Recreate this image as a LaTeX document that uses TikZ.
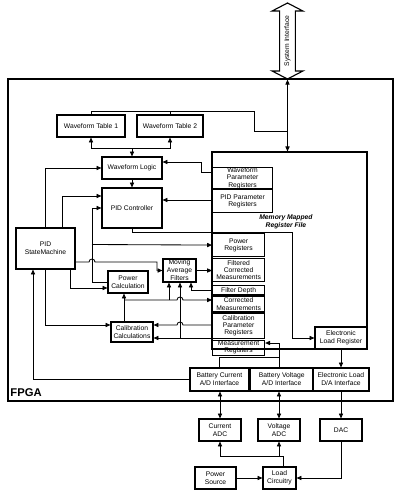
\documentclass[tikz,border=0pt]{standalone}
\usepackage{fontspec}
\setmainfont{Liberation Sans}
\usetikzlibrary{positioning, arrows.meta, shapes.arrows}

\begin{document}
\begin{tikzpicture}[x=0.025cm, y=-0.025cm, >={Triangle[length=3.5pt,width=3pt]},
line width=0.6pt,
box node/.style={draw,line width=0.8pt,align=center,inner sep=0.3pt,font=\fontsize{4.8}{5.7}\selectfont},
reg node/.style={box node,minimum width=1.3cm,inner sep=0pt,font=\fontsize{4.8}{5.2}\selectfont}]

\useasboundingbox (0,0) rectangle (400,494);

% frame and bus
\node[draw,line width=0.9pt,minimum width=9.625cm,minimum height=8.05cm] (fpga) at (200.5,240) {};
\node[anchor=base west,inner sep=0pt,font=\fontsize{8}{9}\selectfont\bfseries] (fpgalbl) at (10,396) {FPGA};
\node[double arrow,draw,line width=0.8pt,rotate=90,minimum height=1.9cm,minimum width=0.775cm,
  double arrow head extend=0.1cm,double arrow tip angle=125,inner sep=0.3pt,
  font=\fontsize{4.8}{5.7}\selectfont] (sysif) at (287.5,41) {System Interface};

\node[box node,minimum width=1.7cm,minimum height=0.55cm] (wt1) at (91,126) {Waveform Table 1};
\node[box node,minimum width=1.65cm,minimum height=0.55cm] (wt2) at (170,126) {Waveform Table 2};
\node[box node,minimum width=1.5cm,minimum height=0.55cm] (wlogic) at (132,168) {Waveform Logic};
\node[box node,minimum width=1.5cm,minimum height=1cm] (pidc) at (132,208) {PID Controller};
\node[box node,minimum width=1.475cm,minimum height=1.025cm] (pidsm) at (45.5,248.5) {PID\\StateMachine};
\node[box node,minimum width=1cm,minimum height=0.55cm] (powc) at (128,282) {Power\\Calculation};
\node[box node,minimum width=0.825cm,minimum height=0.575cm,inner sep=0pt] (maf) at (179.5,270.5) {Moving\\Average\\Filters};
\node[box node,minimum width=1.05cm,minimum height=0.5cm] (calc) at (132,332) {Calibration\\Calculations};

% register file
\node[draw,line width=0.8pt,minimum width=3.875cm,minimum height=4.925cm] (mmrf) at (289.5,250.5) {};
\node[align=center,font=\fontsize{4.8}{5.7}\selectfont\bfseries\itshape] (mmrflbl) at (286,222) {Memory Mapped\\Register File};
\node[reg node,minimum width=1.5cm,minimum height=0.525cm,anchor=north west] (wpr) at (212,167) {Waveform\\Parameter\\Registers};
\node[reg node,minimum width=1.5cm,minimum height=0.575cm,below=0pt of wpr] (pidpr) {PID Parameter\\Registers};
\node[reg node,minimum height=0.575cm,anchor=north west] (pwr) at (212,233) {Power\\Registers};
\node[reg node,minimum height=0.575cm,below=0.025cm of pwr] (fcm) {Filtered\\Corrected\\Measurements};
\node[reg node,minimum height=0.225cm,below=0.075cm of fcm] (fd) {Filter Depth};
\node[reg node,minimum height=0.4cm,below=0pt of fd] (cm) {Corrected\\Measurements};
\node[reg node,minimum height=0.625cm,below=0pt of cm] (cpr) {Calibration\\Parameter\\Registers};
\node[reg node,minimum height=0.375cm,below=0.025cm of cpr] (mr) {Measurement\\Registers};
\node[box node,minimum width=1.3cm,minimum height=0.55cm] (elr) at (341,338) {Electronic\\Load Register};

% interfaces and outside parts
\node[box node,minimum width=1.475cm,minimum height=0.575cm] (bcad) at (219.5,379.5) {Battery Current\\A/D Interface};
\node[box node,minimum width=1.575cm,minimum height=0.575cm,right=0pt of bcad] (bvad) {Battery Voltage\\A/D Interface};
\node[box node,minimum width=1.4cm,minimum height=0.575cm] (elda) at (341,379.5) {Electronic Load\\D/A Interface};
\node[box node,minimum width=1.05cm,minimum height=0.55cm] (cadc) at (220,430) {Current\\ADC};
\node[box node,minimum width=1.05cm,minimum height=0.55cm] (vadc) at (279,430) {Voltage\\ADC};
\node[box node,minimum width=1.05cm,minimum height=0.55cm] (dac) at (341,430) {DAC};
\node[box node,minimum width=1.025cm,minimum height=0.55cm] (psrc) at (215.5,478) {Power\\Source};
\node[box node,minimum width=0.825cm,minimum height=0.55cm] (load) at (279.5,478) {Load\\Circuitry};

% connections
\draw[<->] (sysif.west) -- (sysif.west |- mmrf.north);
\draw (wt1.north) |- (254,111) |- (sysif.west |- 0,131);
\draw (wt2.north) -- (wt2.north |- 0,111);
\coordinate (tsplit) at (132,148);
\draw[->] (tsplit) -| (wt1.south);
\draw[->] (tsplit) -| (wt2.south);
\draw[->] (tsplit) -- (wlogic.north);
\draw[->] (wlogic.south) -- (pidc.north);

\draw[->] (pidsm.north) |- (wlogic.west);
\draw[->] (pidsm.north -| 62,0) |- (pidc.west |- 0,196);
\draw[->] (powc.west) -- (92,282) |- (pidc.west);
\draw[->] (92,244.5) -- (pwr.west);
\draw[->] (pidsm.east |- 0,262) -- (89,262) arc[start angle=180,end angle=0,radius=0.075cm] -- (157,262) |- (maf.west);
\draw[->] (pidsm.south -| 70,0) |- (powc.west |- 0,288);
\draw[->] (pidsm.south) |- (calc.west |- 0,325);
\draw[->] (bcad.west) -| (pidsm.south -| 33,0);

\draw[->] (calc.north -| 124,0) -- (powc.south -| 124,0);
\draw[->] (124,300) -- (177,300) arc[start angle=180,end angle=0,radius=0.075cm] -- (cm.west |- 0,300);
\draw[->] (169,300) -- (maf.south -| 169,0);
\draw[->] (mr.west |- 0,338) -- (calc.east |- 0,338);
\draw[->] (180,338) -- (maf.south -| 180,0);
\draw[->] (cpr.west |- 0,325) -- (183,325) arc[start angle=0,end angle=180,radius=0.075cm] -- (calc.east |- 0,325);
\draw[->] (fd.west) -| (maf.south -| 191,0);
\draw[->] (maf.east) -- (maf.east -| fcm.west);

\draw[->] (wpr.west |- 0,172) -| (201,162) -- (wlogic.east |- 0,162);
\draw[->] (pidpr.west |- 0,200) -- (pidc.east |- 0,200);
\draw[->] (pidc.south) |- (292,232) |- (elr.west);

\draw[->] (elr.south) -- (elda.north);
\draw[->] (elda.south) -- (dac.north);
\draw[->] (dac.south) |- (load.east);
\draw[->] (psrc.east) -- (load.west);
\draw[->] (load.north -| 283,0) |- (cadc.south |- 0,456) -- (cadc.south);
\draw[->] (279,456) -- (vadc.south);
\draw[<->] (cadc.north) -- (cadc.north |- bcad.south);
\draw[<->] (vadc.north) -- (vadc.north |- bvad.south);
\draw[->] (bcad.north) |- (279,357) -- (279,343) -- (mr.east |- 0,343);
\draw (bvad.north -| 279,0) -- (279,357);
\end{tikzpicture}
\end{document}
